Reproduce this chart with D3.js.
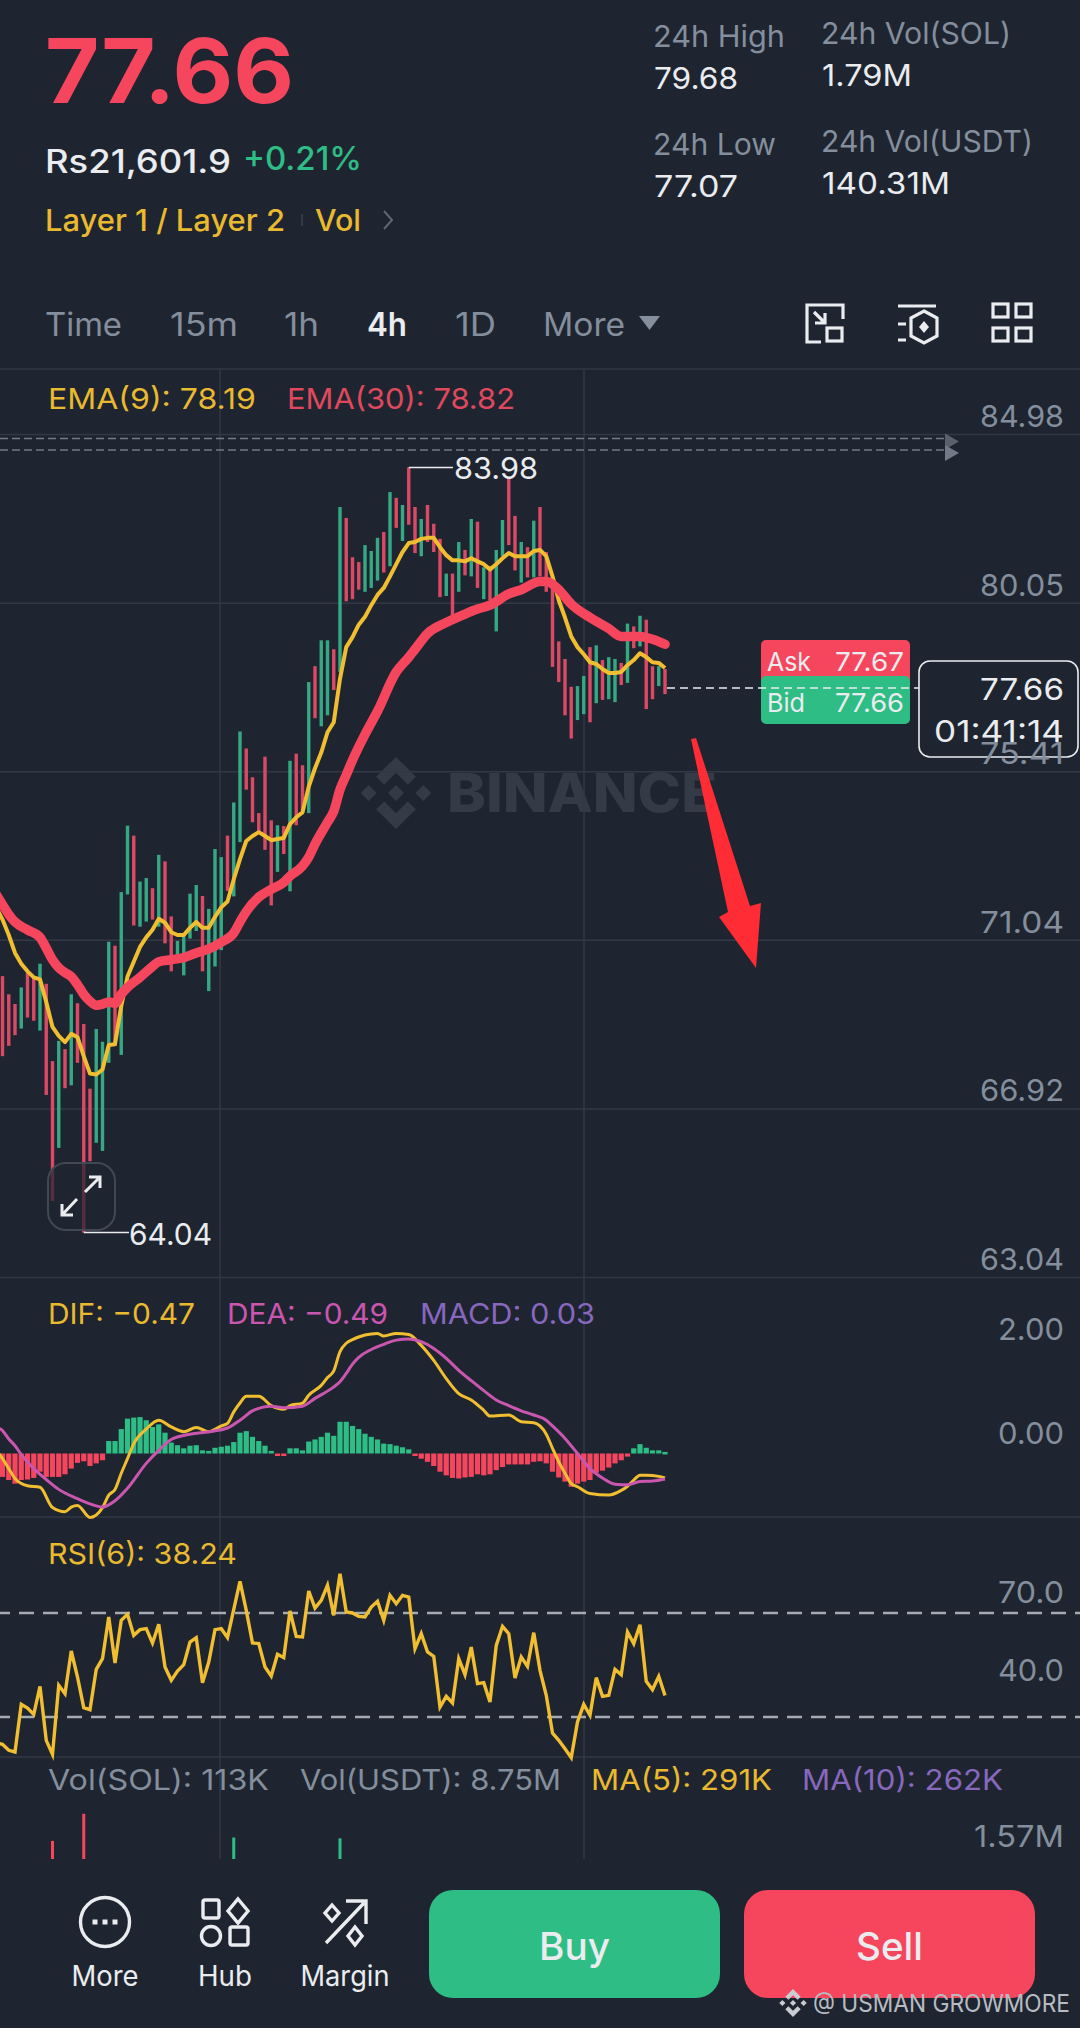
<!DOCTYPE html>
<html>
<head>
<meta charset="utf-8">
<script src="https://cdn.jsdelivr.net/npm/d3@7"></script>
<style>
html,body{margin:0;padding:0;background:#1E2530;}
svg{display:block;font-family:Inter,"Noto Sans",sans-serif;}
</style>
</head>
<body>
<svg id="c" width="1080" height="2028"></svg>
<script>
// ---------- data ----------
const priceTicks = [84.98,80.05,75.41,71.04,66.92,63.04];
const macdTicks = [2.00,0.00];
const rsiTickLabels = [70,40];
const rsiDashed = [70,30];
const volTicks = [1570000];

const candleHigh = [70.13,69.68,69.44,69.85,70.21,70.09,70.44,69.94,68.05,68.54,68.34,69.68,69.46,68.95,67.39,68.83,68.52,70.99,70.89,72.25,
73.97,73.71,72.52,72.61,72.35,73.21,73.04,71.63,71.01,71.16,72.21,72.43,72.15,71.82,73.36,73.15,73.71,74.58,76.48,76.02,
75.25,74.30,75.80,74.11,73.98,73.96,75.69,75.88,75.57,77.83,78.27,78.99,78.99,78.74,82.81,82.49,81.35,81.21,81.70,81.53,
81.91,82.08,83.25,83.08,82.87,83.98,82.81,82.46,82.87,82.32,81.88,80.88,80.88,81.79,81.56,82.46,82.38,81.06,81.09,81.56,
82.43,83.69,82.55,81.79,81.64,82.41,82.81,81.50,80.62,78.96,78.47,77.70,77.72,78.00,78.80,78.85,78.44,78.52,78.47,78.36,
79.46,79.38,79.68,79.57,78.27,78.27,78.19];
const candleLow = [68.17,68.42,68.68,68.84,69.11,69.03,68.79,67.24,64.76,65.99,67.40,67.47,68.01,64.04,65.68,66.11,65.92,68.01,68.42,68.20,
72.19,71.40,71.37,71.50,71.55,71.37,70.95,70.25,70.46,70.15,71.07,71.26,70.25,69.76,70.37,70.78,72.28,72.14,73.54,74.92,
74.06,73.80,73.34,71.91,72.77,73.23,72.27,73.98,74.32,74.30,76.84,76.62,76.92,77.61,78.11,80.09,80.15,80.42,80.36,80.47,
80.68,80.91,81.09,82.20,81.82,82.29,81.47,81.38,81.79,81.50,80.21,80.24,79.68,80.36,80.83,80.80,80.47,80.15,80.12,79.24,
81.38,81.70,80.97,80.62,80.77,80.77,80.80,80.36,78.25,77.83,76.92,76.29,76.79,76.95,76.73,77.25,77.34,77.36,77.28,77.75,
77.81,78.77,78.82,77.09,77.36,77.72,77.50];
const greenCandles = [3,6,9,11,15,16,17,19,20,22,23,25,28,29,30,31,33,34,35,37,38,44,46,49,51,52,54,58,59,60,62,64,67,71,73,75,77,79,80,83,85,92,93,95,97,98,100,102,105];

// EMA(9) and RSI start one candle before the first visible bar
const ema9 = [71.86,71.55,71.16,70.71,70.44,70.25,70.10,70.05,69.49,68.88,68.66,68.51,68.71,68.63,68.17,67.75,67.73,67.85,68.44,68.46,
69.39,70.12,70.49,70.86,71.10,71.29,71.57,71.47,71.23,71.16,71.16,71.34,71.49,71.34,71.34,71.62,71.86,72.01,72.58,73.10,
73.57,73.70,73.80,73.70,73.59,73.62,73.65,74.01,74.19,74.32,75.00,75.49,75.91,76.46,76.73,77.92,78.80,79.08,79.43,79.65,
79.98,80.27,80.47,80.80,81.15,81.50,81.76,81.79,81.88,81.91,81.91,81.64,81.41,81.26,81.26,81.23,81.32,81.23,81.15,81.00,
81.15,81.32,81.47,81.38,81.38,81.38,81.53,81.56,81.38,80.80,80.12,79.63,79.10,78.80,78.60,78.38,78.33,78.19,78.08,78.08,
78.11,78.30,78.44,78.63,78.52,78.38,78.36,78.22];
const ema30Index = [-1,0,1,2,4,6,7,8,9,10,11,12,13,14,15,16,17,18,19,20,22,24,25,27,29,31,33,35,37,38,39,41,43,45,46,48,49,50,52,53,54,55,56,58,60,63,65,66,68,71,74,76,78,81,83,86,87,89,91,94,97,99,102,104,106];
const ema30 = [72.19,71.93,71.68,71.49,71.29,71.10,70.83,70.54,70.34,70.22,70.12,69.92,69.68,69.51,69.41,69.44,69.49,69.46,69.68,69.85,70.10,70.37,70.49,70.54,70.59,70.71,70.81,70.98,71.21,71.49,71.75,72.12,72.32,72.50,72.66,72.92,73.15,73.49,74.06,74.35,74.92,75.31,75.71,76.40,77.03,78.11,78.52,78.74,79.18,79.49,79.73,79.87,79.98,80.30,80.42,80.65,80.65,80.42,80.01,79.63,79.32,79.10,79.10,79.02,78.88];

const macdHist = [-0.45,-0.51,-0.58,-0.51,-0.50,-0.47,-0.35,-0.45,-0.45,-0.45,-0.40,-0.29,-0.18,-0.15,-0.24,-0.19,-0.13,0.24,0.24,0.47,
0.67,0.69,0.70,0.64,0.51,0.56,0.40,0.21,0.16,0.10,0.15,0.16,0.06,0.05,0.11,0.13,0.15,0.22,0.40,0.43,
0.32,0.24,0.15,0.05,-0.04,-0.04,0.10,0.10,0.06,0.23,0.27,0.32,0.40,0.34,0.61,0.61,0.53,0.47,0.38,0.32,
0.27,0.19,0.18,0.15,0.12,0.08,-0.04,-0.10,-0.16,-0.24,-0.35,-0.42,-0.47,-0.48,-0.46,-0.45,-0.40,-0.42,-0.40,-0.32,
-0.26,-0.21,-0.21,-0.21,-0.21,-0.16,-0.15,-0.19,-0.35,-0.46,-0.54,-0.64,-0.58,-0.54,-0.51,-0.37,-0.33,-0.27,-0.19,-0.13,
-0.06,0.10,0.18,0.11,0.06,0.06,0.03];
const difIndex = [-1,0,1,2,4,6,8,10,11,12,14,16,17,18,19,20,21,23,25,27,29,31,33,35,36,37,38,39,41,43,45,46,48,49,51,52,53,54,55,56,58,60,61,63,65,67,69,71,73,75,77,78,81,83,85,87,88,89,90,91,92,94,97,99,100,101,102,103,105,106];
const dif = [0.06,-0.10,-0.29,-0.48,-0.62,-0.65,-1.04,-1.12,-1.03,-1.00,-1.23,-1.04,-0.80,-0.69,-0.38,-0.10,0.19,0.47,0.64,0.51,0.42,0.50,0.42,0.53,0.58,0.80,0.97,1.10,1.10,0.92,0.85,0.92,0.97,1.12,1.31,1.46,1.59,1.96,2.12,2.19,2.28,2.31,2.26,2.31,2.29,2.08,1.79,1.44,1.15,1.03,0.83,0.72,0.74,0.61,0.59,0.37,0.10,-0.16,-0.38,-0.58,-0.64,-0.77,-0.80,-0.71,-0.63,-0.51,-0.42,-0.42,-0.44,-0.47];
const deaIndex = [-1,0,1,2,3,5,7,9,12,14,16,18,20,23,25,27,30,33,36,38,40,43,45,48,50,53,54,55,56,57,59,61,63,65,67,69,71,73,75,77,79,81,83,85,87,88,90,92,94,96,98,100,102,104,106];
const dea = [0.51,0.44,0.28,0.15,-0.02,-0.29,-0.50,-0.69,-0.87,-0.97,-1.03,-0.91,-0.67,-0.19,0.06,0.27,0.37,0.42,0.49,0.64,0.82,0.91,0.88,0.91,1.06,1.28,1.38,1.54,1.72,1.85,2.00,2.10,2.18,2.20,2.15,2.02,1.83,1.60,1.40,1.21,1.03,0.92,0.82,0.74,0.64,0.53,0.29,0.00,-0.29,-0.47,-0.59,-0.60,-0.54,-0.53,-0.49];

const rsi = [20.0,19.49,17.18,16.54,34.87,33.46,31.03,41.79,21.03,15.64,42.18,38.97,55.38,45.38,33.59,32.82,48.33,52.44,68.46,50.77,
67.18,69.49,61.41,63.59,63.97,58.46,65.64,49.23,44.10,47.69,50.13,58.85,60.51,43.21,51.15,63.59,63.97,60.51,71.41,82.18,
71.03,58.46,58.21,49.23,45.77,54.10,52.82,70.77,61.03,60.77,78.46,71.92,74.87,80.64,69.10,85.13,70.38,70.0,68.72,68.46,
72.31,74.49,67.18,76.79,73.59,76.79,76.15,56.28,62.05,55.0,53.33,33.85,37.95,35.38,52.44,46.28,56.92,42.82,43.21,35.77,
57.56,64.87,62.05,45.0,53.08,49.49,62.44,47.95,38.33,23.85,21.03,17.82,14.36,28.08,34.87,30.64,45.13,37.95,38.33,48.33,
46.28,62.69,58.21,65.51,43.72,40.51,45.64,38.24];

const volIndex = [8,13,37,54];
const volValue = [1760000,2080000,1800000,1790000];
const volGreen = [0,0,1,1];

const colors = {bg:'#1E2530',grid:'#323944',axis:'#848E9C',up:'#36A884',down:'#DB4A64',
  green:'#2EBD85',red:'#F6465D',yellow:'#F0BE30',amber:'#E9B92F',pink:'#CB56B0',purple:'#8867BE',white:'#EAECEF'};

// ---------- scales ----------
const x = d3.scaleLinear().domain([0,106]).range([2.5,665]);
const yP = d3.scaleLog().domain([63.04,84.98]).range([1277,434]);
const yM = d3.scaleLinear().domain([0,2]).range([1453.5,1349.5]);
const yR = d3.scaleLinear().domain([30,70]).range([1717,1613]);
const yV = d3.scaleLinear().domain([0,1570000]).range([1990,1857]);

const svg = d3.select('#c');
svg.append('rect').attr('width',1080).attr('height',2028).attr('fill',colors.bg);

function txt(g,xp,yp,s,o={}){
  const t = g.append('text').attr('x',xp).attr('y',yp).attr('dy','0.36em')
    .attr('font-size',o.size||29).attr('fill',o.fill||colors.white)
    .attr('font-weight',o.weight||400).attr('text-anchor',o.anchor||'start').text(s);
  if(o.w) t.attr('textLength',o.w).attr('lengthAdjust','spacingAndGlyphs');
  return t;
}

function logo(g,cx,cy,s,fill){
  const l=g.append('g').attr('transform',`translate(${cx},${cy}) scale(${s})`).attr('fill',fill);
  const polys=[
    [[0,-1],[.55,-.45],[.33,-.23],[0,-.56],[-.33,-.23],[-.55,-.45]],
    [[0,1],[.55,.45],[.33,.23],[0,.56],[-.33,.23],[-.55,.45]],
    [[0,-.22],[.22,0],[0,.22],[-.22,0]],
    [[-.76,-.22],[-.54,0],[-.76,.22],[-.98,0]],
    [[.76,-.22],[.98,0],[.76,.22],[.54,0]]
  ];
  polys.forEach(p=>l.append('polygon').attr('points',p.map(q=>q.join(',')).join(' ')));
}

// ---------- header ----------
const h = svg.append('g');
txt(h,45,71,'77.66',{size:90,fill:colors.red,weight:700,w:249});
txt(h,45,161,'Rs21,601.9',{size:32,weight:500,w:186});
txt(h,243,158,'+0.21%',{size:32,fill:colors.green,weight:500,w:119});
txt(h,45,220,'Layer 1 / Layer 2',{size:30,fill:colors.amber,weight:500,w:240});
h.append('line').attr('x1',302).attr('x2',302).attr('y1',214).attr('y2',226).attr('stroke','#3A414C').attr('stroke-width',1.5);
txt(h,315,220,'Vol',{size:30,fill:colors.amber,weight:500,w:46});
h.append('path').attr('d','M384 211 L392 220 L384 229').attr('fill','none').attr('stroke','#5E6673').attr('stroke-width',2);
[[653,36,'24h High',132,78,'79.68',84],[821,33,'24h Vol(SOL)',190,75,'1.79M',90],[653,144,'24h Low',123,186,'77.07',84],[821,141,'24h Vol(USDT)',212,183,'140.31M',128]]
 .forEach(d=>{txt(h,d[0],d[1],d[2],{size:30,fill:colors.axis,w:d[3]});txt(h,d[0]+1,d[4],d[5],{size:30,w:d[6]});});
[[45,'Time',0,77],[170,'15m',0,68],[284,'1h',0,35],[367,'4h',1,40],[455,'1D',0,41],[543,'More',0,82]]
 .forEach(d=>txt(h,d[0],324,d[1],{size:32,fill:d[2]?colors.white:colors.axis,weight:d[2]?600:400,w:d[3]}));
h.append('polygon').attr('points','639,316 660,316 649.5,330').attr('fill',colors.axis);

// tool icons
const ic = svg.append('g').attr('fill','none').attr('stroke',colors.white).attr('stroke-width',3.2);
ic.append('path').attr('d','M821 342 H807 V305 H843 V319');
ic.append('rect').attr('x',827).attr('y',328).attr('width',15).attr('height',13);
ic.append('path').attr('d','M814 312 L825 323 M815 323 H825 V313');
ic.append('path').attr('d','M898 306 H936 M898 324 H906 M898 340 H906');
ic.append('polygon').attr('points','924,311 937,318 937,336 924,343 911,336 911,318');
ic.append('polygon').attr('points','924,321 929,327 924,333 919,327').attr('fill',colors.white).attr('stroke','none');
[[993,304],[1016,304],[993,328],[1016,328]].forEach(p=>ic.append('rect').attr('x',p[0]).attr('y',p[1]).attr('width',15).attr('height',13));

svg.append('line').attr('x1',0).attr('x2',1080).attr('y1',369).attr('y2',369).attr('stroke','#2C333E').attr('stroke-width',2);

// ---------- watermark ----------
const wm = svg.append('g');
logo(wm,396,793,36,'#343B46');
wm.append('text').attr('x',447).attr('y',812).attr('font-size',54).attr('font-weight',800).attr('fill','#343B46')
  .attr('textLength',270).attr('lengthAdjust','spacingAndGlyphs').text('BINANCE');

// ---------- axes & grid ----------
function gridAt(scale,ticks){
  const g = svg.append('g').attr('transform','translate(1080,0)')
    .call(d3.axisLeft(scale).tickValues(ticks).tickSize(1080).tickFormat(''));
  g.select('.domain').remove();
  g.selectAll('.tick text').remove();
  g.selectAll('.tick line').attr('stroke',colors.grid).attr('stroke-width',1.5);
}
function labelsAt(scale,ticks,fmt,width,dy){
  const g = svg.append('g').attr('transform','translate(1080,0)')
    .call(d3.axisLeft(scale).tickValues(ticks).tickSize(0).tickFormat(fmt));
  g.select('.domain').remove();
  g.selectAll('.tick line').remove();
  g.selectAll('.tick text').attr('x',-16).attr('y',dy).attr('dy','0.36em')
    .attr('font-family','Inter,"Noto Sans",sans-serif').attr('font-size',30).attr('fill',colors.axis)
    .attr('textLength',width).attr('lengthAdjust','spacingAndGlyphs');
  return g;
}
gridAt(yP,priceTicks);
[220,584].forEach(v=>svg.append('line').attr('x1',v).attr('x2',v).attr('y1',369).attr('y2',1859).attr('stroke',colors.grid).attr('stroke-width',1.5));

// alert dashed lines with markers
[438.5,450].forEach((v,i)=>{
  svg.append('line').attr('x1',0).attr('x2',945).attr('y1',v).attr('y2',v).attr('stroke','#737A87').attr('stroke-width',1.5).attr('stroke-dasharray','8 4');
  svg.append('polygon').attr('points',`945,${v-5} 959,${v+3} 945,${v+11}`).attr('fill',i?'#737A87':'#5A616D');
});

// ---------- candles ----------
const candles = d3.range(candleHigh.length);
svg.append('g').selectAll('rect').data(candles).join('rect')
  .attr('x',i=>x(i)-1.7).attr('width',3.4)
  .attr('y',i=>yP(candleHigh[i])).attr('height',i=>yP(candleLow[i])-yP(candleHigh[i]))
  .attr('fill',i=>greenCandles.includes(i)?colors.up:colors.down);

// high / low markers
const iHigh = d3.greatest(candles,i=>candleHigh[i]), iLow = d3.least(candles,i=>candleLow[i]);
svg.append('line').attr('x1',x(iHigh)).attr('x2',453).attr('y1',yP(candleHigh[iHigh])).attr('y2',yP(candleHigh[iHigh])).attr('stroke',colors.white).attr('stroke-width',1.5);
txt(svg,454,yP(candleHigh[iHigh])+1,d3.format('.2f')(candleHigh[iHigh]),{size:30,w:84});
svg.append('line').attr('x1',x(iLow)).attr('x2',129).attr('y1',yP(candleLow[iLow])).attr('y2',yP(candleLow[iLow])).attr('stroke',colors.white).attr('stroke-width',1.5);
txt(svg,129,yP(candleLow[iLow])+2,d3.format('.2f')(candleLow[iLow]),{size:30,w:83});

// ---------- EMA lines ----------
const linePrice = d3.line().x(d=>x(d[0])).y(d=>yP(d[1]));
svg.append('path').attr('d',linePrice(ema9.map((v,k)=>[k-1,v]))).attr('fill','none').attr('stroke',colors.yellow).attr('stroke-width',4).attr('stroke-linejoin','round');
svg.append('path').attr('d',linePrice.curve(d3.curveMonotoneX)(ema30.map((v,k)=>[ema30Index[k],v]))).attr('fill','none').attr('stroke',colors.red).attr('stroke-width',9.5).attr('stroke-linecap','round').attr('stroke-linejoin','round');

// expand button
const eb = svg.append('g');
eb.append('rect').attr('x',48).attr('y',1163).attr('width',67).attr('height',67).attr('rx',18).attr('fill','rgba(30,37,48,0.72)').attr('stroke','#424853').attr('stroke-width',2);
eb.append('path').attr('d','M85 1192 L100 1177 M89 1177 H100 V1188 M77 1199 L62 1215 M62 1204 V1215 H73').attr('fill','none').attr('stroke',colors.white).attr('stroke-width',3);

// legend
txt(svg,48,399,'EMA(9): 78.19',{fill:colors.amber,w:208});
txt(svg,287,399,'EMA(30): 78.82',{fill:'#E0485E',w:228});

// ---------- current price ----------
svg.append('rect').attr('x',761).attr('y',640).attr('width',149).attr('height',48).attr('rx',5).attr('fill',colors.red);
svg.append('rect').attr('x',761).attr('y',676).attr('width',149).attr('height',48).attr('rx',5).attr('fill',colors.green);
svg.append('rect').attr('x',761).attr('y',683).attr('width',149).attr('height',14).attr('fill',colors.green);
txt(svg,767,662,'Ask',{size:26,w:44});
txt(svg,904,662,'77.67',{size:26,anchor:'end',w:69});
txt(svg,767,703,'Bid',{size:26,w:38});
txt(svg,904,703,'77.66',{size:26,anchor:'end',w:69});
svg.append('line').attr('x1',x(106)+2).attr('x2',919).attr('y1',688).attr('y2',688).attr('stroke',colors.white).attr('stroke-width',1.5).attr('stroke-dasharray','8 5');
svg.append('rect').attr('x',919).attr('y',661).attr('width',159).attr('height',96).attr('rx',11).attr('fill',colors.bg).attr('stroke',colors.white).attr('stroke-width',1.6);
labelsAt(yP,priceTicks,d3.format('.2f'),84,-18.5);
txt(svg,1064,689,'77.66',{size:30,anchor:'end',w:84});
txt(svg,1064,731,'01:41:14',{size:30,anchor:'end',w:130});

// red arrow annotation
svg.append('polygon').attr('points','691,739 696,738 750,906 761,903 756,968 719,917 728,912').attr('fill','#FF2B35');

// ---------- MACD ----------
svg.append('line').attr('x1',0).attr('x2',1080).attr('y1',1517).attr('y2',1517).attr('stroke',colors.grid).attr('stroke-width',1.5);
labelsAt(yM,macdTicks,d3.format('.2f'),66,-21);
svg.append('g').selectAll('rect').data(macdHist).join('rect')
  .attr('x',(d,i)=>x(i)-2.6).attr('width',5.2)
  .attr('y',d=>Math.min(yM(d),yM(0))).attr('height',d=>Math.max(2.5,Math.abs(yM(d)-yM(0))))
  .attr('fill',d=>d>=0?colors.green:colors.red);
const lineMacd = d3.line().x(d=>x(d[0])).y(d=>yM(d[1])).curve(d3.curveMonotoneX);
svg.append('path').attr('d',lineMacd(dif.map((v,k)=>[difIndex[k],v]))).attr('fill','none').attr('stroke',colors.yellow).attr('stroke-width',3);
svg.append('path').attr('d',lineMacd(dea.map((v,k)=>[deaIndex[k],v]))).attr('fill','none').attr('stroke',colors.pink).attr('stroke-width',3);
txt(svg,48,1314,'DIF: −0.47',{fill:colors.amber,w:147});
txt(svg,227,1314,'DEA: −0.49',{fill:colors.pink,w:161});
txt(svg,420,1314,'MACD: 0.03',{fill:colors.purple,w:175});

// ---------- RSI ----------
svg.append('line').attr('x1',0).attr('x2',1080).attr('y1',1757).attr('y2',1757).attr('stroke',colors.grid).attr('stroke-width',1.5);
rsiDashed.forEach(v=>svg.append('line').attr('x1',-5).attr('x2',1080).attr('y1',yR(v)).attr('y2',yR(v)).attr('stroke','#A7AAB1').attr('stroke-width',2.4).attr('stroke-dasharray','15 9'));
labelsAt(yR,rsiTickLabels,d3.format('.1f'),66,-21);
svg.append('path').attr('d',d3.line().x(d=>x(d[0])).y(d=>yR(d[1]))(rsi.map((v,k)=>[k-1,v]))).attr('fill','none').attr('stroke',colors.yellow).attr('stroke-width',3.4);
txt(svg,48,1554,'RSI(6): 38.24',{fill:colors.amber,w:189});

// ---------- volume ----------
svg.append('g').selectAll('rect').data(volIndex).join('rect')
  .attr('x',i=>x(i)-1.5).attr('width',3)
  .attr('y',(i,k)=>yV(volValue[k])).attr('height',(i,k)=>1859-yV(volValue[k]))
  .attr('fill',(i,k)=>volGreen[k]?colors.green:colors.red);
labelsAt(yV,volTicks,()=>'1.57M',90,-21);
txt(svg,48,1780,'Vol(SOL): 113K',{fill:colors.axis,w:221});
txt(svg,300,1780,'Vol(USDT): 8.75M',{fill:colors.axis,w:261});
txt(svg,591,1780,'MA(5): 291K',{fill:colors.amber,w:181});
txt(svg,802,1780,'MA(10): 262K',{fill:colors.purple,w:201});

// ---------- toolbar ----------
const t = svg.append('g');
t.append('rect').attr('x',429).attr('y',1890).attr('width',291).attr('height',108).attr('rx',24).attr('fill',colors.green);
t.append('rect').attr('x',744).attr('y',1890).attr('width',291).attr('height',108).attr('rx',24).attr('fill',colors.red);
txt(t,574.5,1946,'Buy',{size:38,weight:500,anchor:'middle',w:71});
txt(t,889.5,1946,'Sell',{size:38,weight:500,anchor:'middle',w:67});
const ti = t.append('g').attr('fill','none').attr('stroke',colors.white).attr('stroke-width',3.4);
ti.append('circle').attr('cx',105).attr('cy',1922).attr('r',24.5);
[95,105,115].forEach(v=>t.append('rect').attr('x',v-2.5).attr('y',1919.5).attr('width',5).attr('height',5).attr('fill',colors.white));
ti.append('rect').attr('x',203).attr('y',1900).attr('width',16).attr('height',18).attr('rx',2);
ti.append('polygon').attr('points','238,1899 248,1911 238,1923 228,1911');
ti.append('circle').attr('cx',211).attr('cy',1936).attr('r',9.5);
ti.append('rect').attr('x',230).attr('y',1927).attr('width',18).attr('height',18).attr('rx',2);
ti.append('path').attr('d','M326 1943 L364 1903 M346 1901 H366 V1924');
ti.append('polygon').attr('points','332,1905 339,1913 332,1921 325,1913');
ti.append('polygon').attr('points','355,1927 362,1936 355,1945 348,1936');
txt(t,105,1976,'More',{size:28,anchor:'middle',w:67});
txt(t,225,1976,'Hub',{size:28,anchor:'middle',w:54});
txt(t,345,1976,'Margin',{size:28,anchor:'middle',w:89});
logo(t,793,2003,14,'#C9CDD3');
txt(t,813,2003,'@ USMAN GROWMORE',{size:24,fill:'#B7BBC2',w:257});
</script>
</body>
</html>
